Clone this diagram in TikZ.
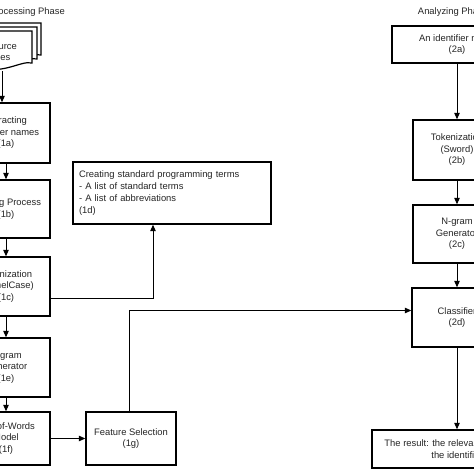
\documentclass[tikz,border=0pt]{standalone}
\usepackage{fontspec}
\setmainfont{Liberation Sans}
\usetikzlibrary{arrows.meta}
\begin{document}
\begin{tikzpicture}[x=1pt,y=-1pt,
  font=\fontsize{9.4}{11.5}\selectfont,
  box/.style={draw, line width=1.4pt, fill=white, align=center, inner sep=0pt, text=black!85},
  page/.style={draw, line width=1.2pt, fill=white},
  arr/.style={-{Triangle[length=6.5pt,width=5.5pt]}, line width=1pt},
  title/.style={text=black!85, inner sep=0pt}]
\useasboundingbox (0,0) rectangle (474,474);
\clip (0,0) rectangle (474,474);

% titles
\node[title, anchor=east] (tpre) at (65,12) {Preprocessing Phase};
\node[title] (tana) at (453,12) {Analyzing Phase};

% document stack (source files)
\draw[page] (-21,23) -- (41,23) -- (41,55) .. controls (30,52) and (10,68) .. (-21,58) -- cycle;
\draw[page] (-25,27) -- (37,27) -- (37,59) .. controls (26,56) and (6,72) .. (-25,62) -- cycle;
\draw[page] (-30,31) -- (32,31) -- (32,63) .. controls (20,60) and (2,77) .. (-30,66) -- cycle;
\node[text=black!85, align=center, inner sep=0pt] (src) at (2,52) {Source\\files};
\coordinate (docbot) at (2,71);

% left column
\node[box, minimum width=88pt, minimum height=60pt] (n1a) at (6,133) {Extracting\\identifier names\\(1a)};
\node[box, minimum width=88pt, minimum height=58pt] (n1b) at (6,209) {Filtering Process\\(1b)};
\node[box, minimum width=88pt, minimum height=59pt] (n1c) at (6,286.5) {Tokenization\\(CamelCase)\\(1c)};
\node[box, minimum width=88pt, minimum height=59pt] (n1e) at (6,367.5) {N-gram\\Generator\\(1e)};
\node[box, minimum width=88pt, minimum height=53pt] (n1f) at (6,438.5) {Bag-of-Words\\Model\\(1f)};
\node[box, minimum width=90pt, minimum height=53pt] (n1g) at (131,438.5) {Feature Selection\\(1g)};
\node[box, minimum width=198pt, minimum height=62pt, align=left, text width=186pt,
      font=\fontsize{9.4}{12}\selectfont] (n1d) at (172,193)
  {Creating standard programming terms\\- A list of standard terms\\- A list of abbreviations\\(1d)};

% right column
\node[box, minimum width=130pt, minimum height=37pt] (n2a) at (457,44.5) {An identifier name\\(2a)};
\node[box, minimum width=88pt, minimum height=60pt] (n2b) at (457,150) {Tokenization\\(Sword)\\(2b)};
\node[box, minimum width=88pt, minimum height=58pt] (n2c) at (457,234) {N-gram\\Generator\\(2c)};
\node[box, minimum width=90pt, minimum height=59pt] (n2d) at (457,317.5) {Classifier\\(2d)};
\node[box, minimum width=170pt, minimum height=38pt] (nres) at (457,449) {The result: the relevance scores of\\the identifier};

% connectors left
\draw[arr] (docbot) -- (docbot |- n1a.north);
\draw[arr] (n1a) -- (n1b);
\draw[arr] (n1b) -- (n1c);
\draw[arr] (n1c) -- (n1e);
\draw[arr] (n1e) -- (n1f);
\draw[arr] (n1f) -- (n1g);
\draw[arr] ([yshift=-11.5pt]n1c.east) -| ([xshift=-19pt]n1d.south);
\draw[arr] ([xshift=-2pt]n1g.north) |- ([yshift=7pt]n2d.west);

% connectors right
\draw[arr] (n2a) -- (n2b);
\draw[arr] (n2b) -- (n2c);
\draw[arr] (n2c) -- (n2d);
\draw[arr] (n2d) -- (nres);
\end{tikzpicture}
\end{document}
